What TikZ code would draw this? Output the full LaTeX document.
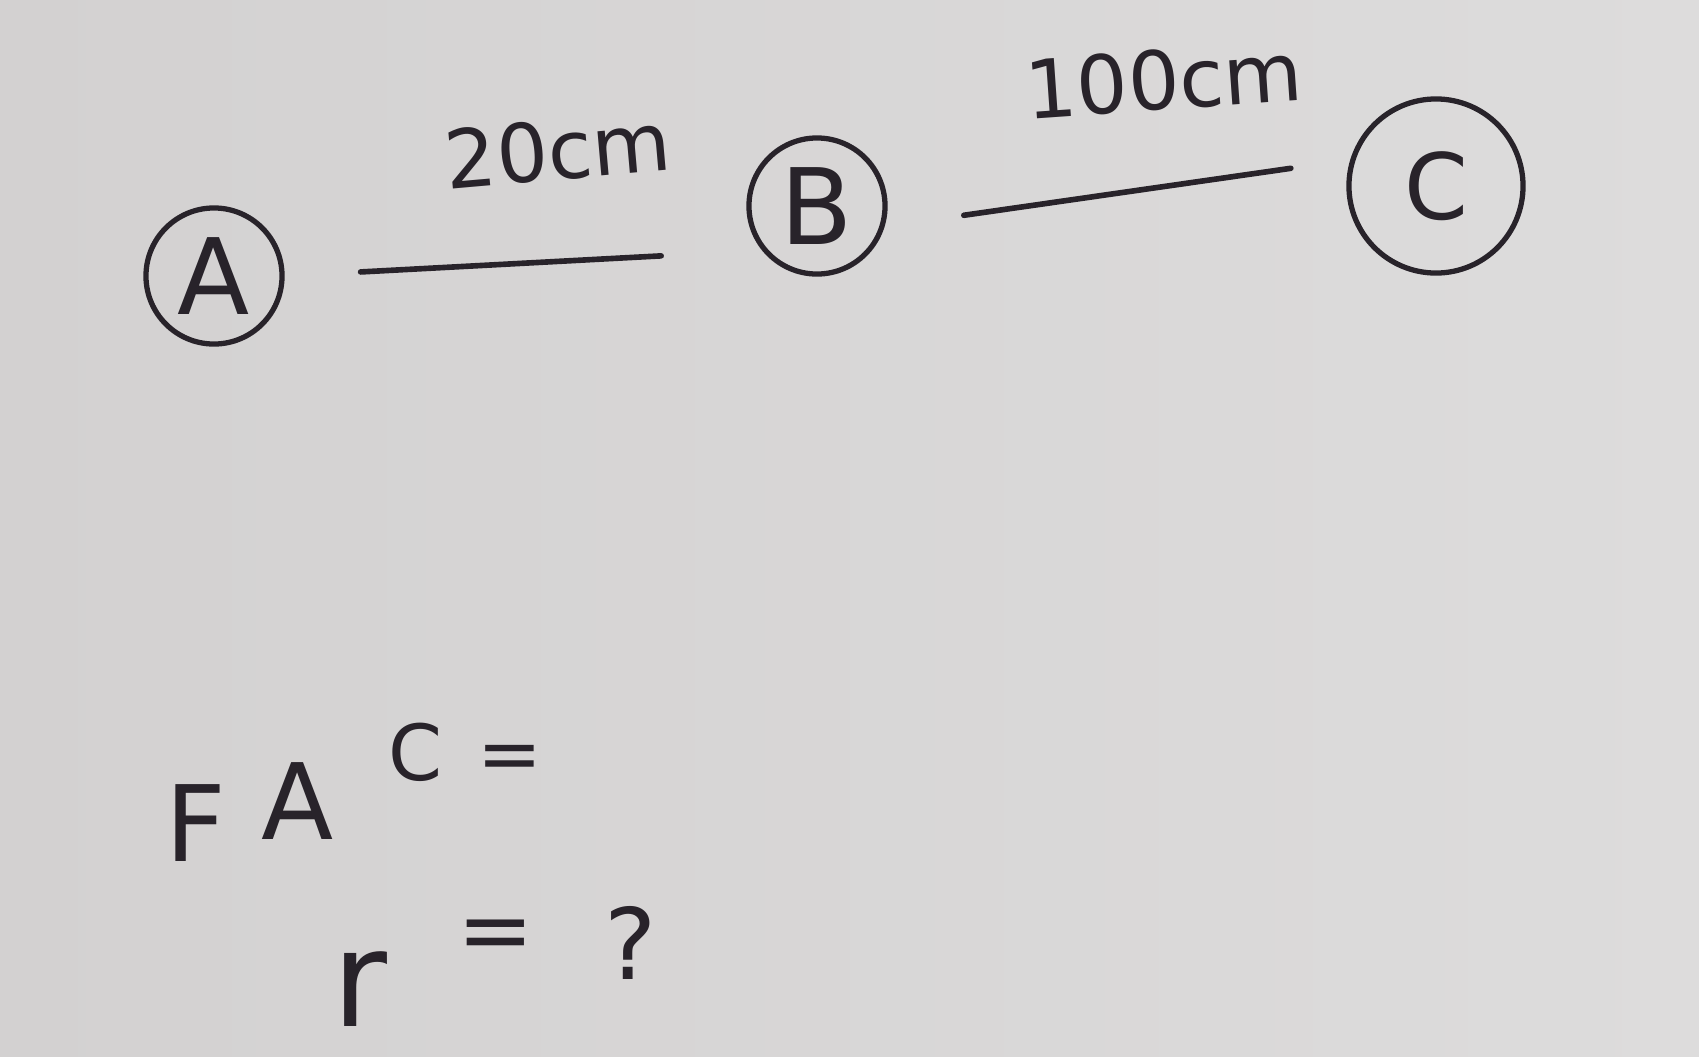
\documentclass[tikz,border=0pt]{standalone}
\usepackage{fontspec}
\setmainfont{DejaVu Sans}
\usetikzlibrary{positioning}
\definecolor{paper}{HTML}{D3D1D1}
\definecolor{paperlight}{HTML}{DDDCDC}
\definecolor{ink}{HTML}{28232A}
\tikzset{
  pt/.style={draw=ink, line width=1.5pt, circle, inner sep=0pt, text=ink, font=\fontsize{30}{30}\selectfont},
  seg/.style={draw=ink, line width=1.6pt, line cap=round},
  dist/.style={text=ink, font=\fontsize{23}{23}\selectfont, inner sep=0pt},
  eqn/.style={text=ink, font=\fontsize{30}{30}\selectfont, inner sep=0pt, anchor=base west}
}
\begin{document}
\begin{tikzpicture}[x=0.01cm,y=-0.01cm]
\shade [left color=paper, right color=paperlight] (0,0) rectangle (1699,1057);
\useasboundingbox (0,0) rectangle (1699,1057);

\node at (214,276) [pt, minimum size=1.36cm] (A) {A};
\node at (817,206) [pt, minimum size=1.36cm] (B) {B};
\node at (1436,186) [pt, minimum size=1.74cm, font=\fontsize{26}{26}\selectfont] (C) {C};

\draw [seg, shorten <=0.76cm, shorten >=1.01cm] (A.east) -- (B.219);
\draw [seg, shorten <=0.8cm, shorten >=0.6cm] (B.-17) -- (C.163);

\node at (558,150) [dist, rotate=5] (ab) {20cm};
\node at (1164,80) [dist, rotate=4] (bc) {100cm};

\node at (165,861) [eqn] (fac) {F\hspace{0.35cm}\raisebox{0.21cm}{A}\hspace{0.55cm}\raisebox{0.8cm}{\fontsize{22}{22}\selectfont C\hspace{0.35cm}=}};
\node at (332,1026) [eqn] (r) {\fontsize{38}{38}\selectfont r\hspace{0.7cm}\raisebox{0.64cm}{\fontsize{26}{26}\selectfont =}\hspace{0.7cm}\raisebox{0.46cm}{\fontsize{28}{28}\selectfont ?}};
\end{tikzpicture}
\end{document}
